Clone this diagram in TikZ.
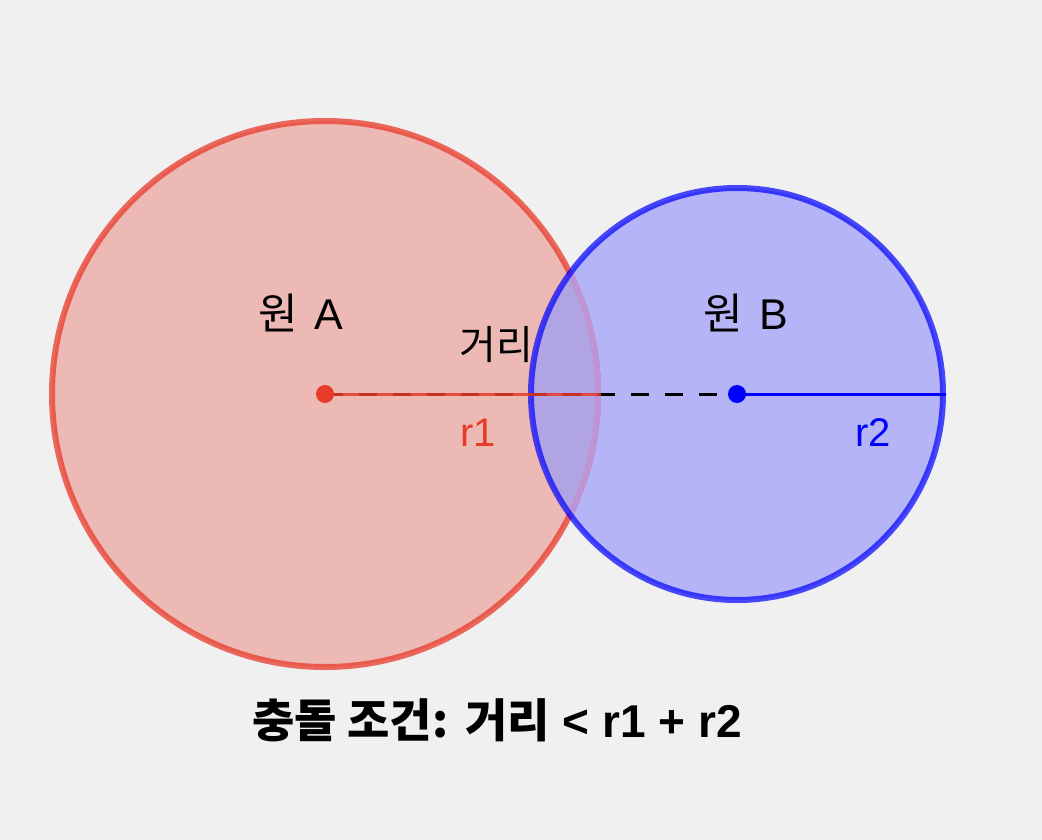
\documentclass[tikz,border=0pt]{standalone}
\usepackage{fontspec}
\setmainfont{Liberation Sans}
\newfontfamily\kr{Noto Sans CJK KR}
\usepackage{tikz}

\definecolor{bgcol}{RGB}{240,240,240}
\definecolor{colA}{RGB}{232,58,42}
\definecolor{colB}{RGB}{0,0,255}
\definecolor{fillB}{RGB}{90,90,255}
\definecolor{overlapcol}{RGB}{176,164,227}
\definecolor{fadedA}{RGB}{190,148,210}

\tikzset{
  circA/.style={circle, inner sep=0pt, minimum size=546pt, line width=6pt,
    draw=colA, draw opacity=0.75, fill=colA, fill opacity=0.3, text opacity=1},
  circB/.style={circle, inner sep=0pt, minimum size=412pt, line width=6pt,
    fill=fillB, fill opacity=0.4, text opacity=1},
  centerdot/.style={circle, inner sep=0pt, minimum size=18pt},
  lbl/.style={font=\fontsize{40}{48}\selectfont},
}

\begin{document}
\begin{tikzpicture}[x=1pt,y=-1pt]
  \fill[bgcol] (0,0) rectangle (1042,840);
  \useasboundingbox (0,0) rectangle (1042,840);

  \node[circA] (circleA) at (325,394) {};
  \node[circB] (circleB) at (737,394) {};

  \coordinate (cA) at (circleA.center);
  \coordinate (cB) at (circleB.center);

  % overlap of the two circles
  \begin{scope}
    \clip (cA) circle (276pt);
    \fill[overlapcol] (cB) circle (206pt);
  \end{scope}
  \begin{scope}
    \clip (cB) circle (206pt);
    \draw[fadedA, line width=6pt] (cA) circle (273pt);
  \end{scope}
  \draw[colB, draw opacity=0.7, line width=6pt] (cB) circle (206pt);

  \draw[line width=3pt, dash pattern=on 18pt off 16pt] (cA) -- (cB);
  \draw[line width=3pt, colA, opacity=0.85] (cA) -- (circleA.east);
  \draw[line width=3pt, colB] (cB) -- (circleB.east);

  \node[centerdot, fill=colA] (dotA) at (cA) {};
  \node[centerdot, fill=colB] (dotB) at (cB) {};

  \node[lbl, font=\fontsize{43}{50}\selectfont] (nameA) at (301,313) {{\kr 원}\hspace{4pt} A};
  \node[lbl, font=\fontsize{43}{50}\selectfont] (nameB) at (746,313) {{\kr 원}\hspace{4pt} B};
  \node[lbl] (dist) at (496,345) {\kr 거리};
  \node[lbl, text=colA] (rA) at (478,433) {r1};
  \node[lbl, text=colB] (rB) at (873,433) {r2};

  \node[font=\fontsize{46}{54}\selectfont\bfseries] (cond) at (497,720)
    {{\kr 충돌 조건:} {\kr 거리} < r1 + r2};
\end{tikzpicture}
\end{document}
